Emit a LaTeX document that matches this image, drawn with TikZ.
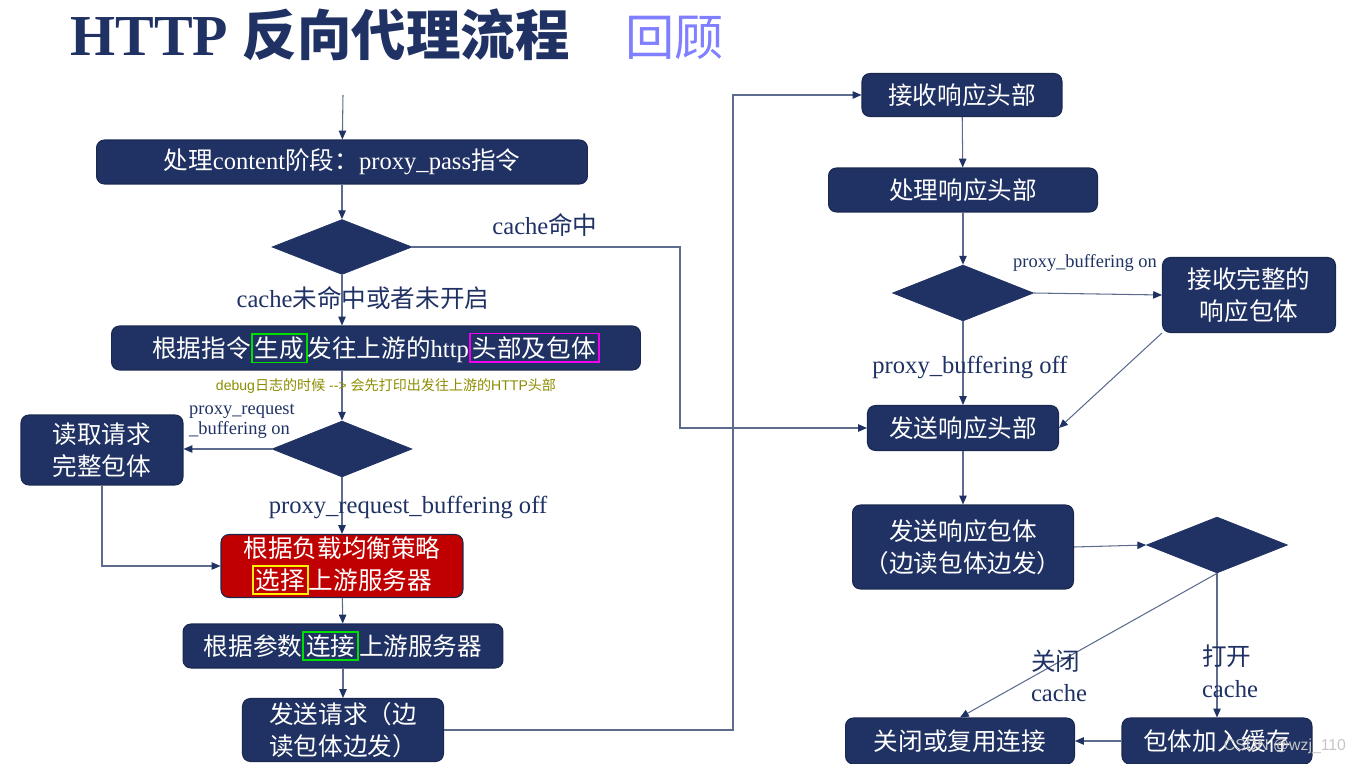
\documentclass[tikz,border=0pt]{standalone}
\usepackage{fontspec}
\setmainfont{Liberation Serif}
\newfontfamily\zhfont{Noto Sans CJK SC}
\newfontfamily\latsans{Liberation Sans}
\usetikzlibrary{arrows.meta, shapes.geometric, positioning}
\definecolor{flownavy}{HTML}{203264}
\definecolor{linegray}{HTML}{5C6B8E}
\definecolor{lbred}{HTML}{C00000}
\definecolor{hlgreen}{HTML}{00DD00}
\definecolor{hlpink}{HTML}{F000F0}
\definecolor{hlyellow}{HTML}{FFEE00}
\definecolor{debugolive}{HTML}{8C8C00}
\definecolor{recapblue}{HTML}{7F7FFF}
\newcommand{\zh}[1]{{\zhfont #1}}
\newcommand{\hlbox}[3]{{\setlength{\fboxsep}{1.2pt}\setlength{\fboxrule}{1pt}\fcolorbox{#1}{#2}{#3}}}

\begin{document}
\begin{tikzpicture}[x=0.02cm, y=-0.02cm, font=\fontsize{14}{18}\selectfont,
  stepbox/.style={draw=flownavy!80!black, fill=flownavy, text=white,
    rounded corners=4.5pt, align=center, inner sep=1pt, line width=0.6pt},
  decision/.style={diamond, fill=flownavy, draw=flownavy, inner sep=0pt},
  flow/.style={draw=linegray, line width=0.6pt,
    -{Triangle[length=5pt, width=4.2pt, color=flownavy]}},
  lbl/.style={text=flownavy, inner sep=1pt}]

% --- canvas (pixel grid of the reference) ---
\useasboundingbox (0,0) rectangle (1347,764);

% --- title ---
\node[anchor=west, text=flownavy, inner sep=0pt,
  font=\fontsize{33}{36}\selectfont\bfseries] (title) at (70,35)
  {HTTP {\fontsize{31}{36}\selectfont\zh{反向代理流程}}};
\node[anchor=west, text=recapblue, inner sep=0pt,
  font=\fontsize{28}{30}\selectfont] (recap) at (625,38) {\zh{回顾}};

% --- left column: request side ---
\coordinate (start) at (343,95);
\node[stepbox, minimum width=9.82cm, minimum height=0.88cm] (content) at (342,162)
  {\zh{处理}content\zh{阶段：}proxy\_pass\zh{指令}};
\node[decision, minimum width=2.8cm, minimum height=1.1cm] (cachedec) at (342,247) {};
\node[stepbox, minimum width=10.58cm, minimum height=0.88cm] (genreq) at (376,348)
  {\zh{根据指令}\hlbox{hlgreen}{flownavy}{\zh{生成}}\zh{发往上游的}http\hlbox{hlpink}{flownavy}{\zh{头部及包体}}};
\node[decision, minimum width=2.8cm, minimum height=1.12cm] (reqbufdec) at (342,449) {};
\node[stepbox, minimum width=3.24cm, minimum height=1.4cm] (readbody) at (102,450)
  {\zh{读取请求}\\\zh{完整包体}};
\node[stepbox, fill=lbred, minimum width=4.84cm, minimum height=1.26cm] (pickup) at (342,566)
  {\zh{根据负载均衡策略}\\\hlbox{hlyellow}{lbred}{\zh{选择}}\zh{上游服务器}};
\node[stepbox, minimum width=6.4cm, minimum height=0.88cm] (connup) at (343,646)
  {\zh{根据参数}\hlbox{hlgreen}{flownavy}{\zh{连接}}\zh{上游服务器}};
\node[stepbox, minimum width=4.02cm, minimum height=1.26cm] (sendreq) at (343,730)
  {\zh{发送请求（边}\\\zh{读包体边发）}};

% --- right column: response side ---
\node[stepbox, minimum width=4.0cm, minimum height=0.86cm] (recvhead) at (962,95)
  {\zh{接收响应头部}};
\node[stepbox, minimum width=5.38cm, minimum height=0.88cm] (prochead) at (963,190)
  {\zh{处理响应头部}};
\node[decision, minimum width=2.82cm, minimum height=1.12cm] (bufdec) at (963,293) {};
\node[stepbox, minimum width=3.46cm, minimum height=1.5cm] (recvbody) at (1249,295)
  {\zh{接收完整的}\\\zh{响应包体}};
\node[stepbox, minimum width=3.82cm, minimum height=0.9cm] (sendhead) at (963,428)
  {\zh{发送响应头部}};
\node[stepbox, minimum width=4.42cm, minimum height=1.68cm] (sendbody) at (963,547)
  {\zh{发送响应包体}\\\zh{（边读包体边发）}};
\node[decision, minimum width=2.82cm, minimum height=1.12cm] (cachesw) at (1217,545) {};
\node[stepbox, minimum width=4.58cm, minimum height=0.92cm] (closeconn) at (960,741)
  {\zh{关闭或复用连接}};
\node[stepbox, minimum width=3.8cm, minimum height=0.92cm] (storebody) at (1217,741)
  {\zh{包体加入缓存}};

% --- turning points ---
\coordinate (hitturn) at (680,247);
\coordinate (sendturn) at (733,730);

% --- connectors ---
\draw[flow] (start) -- (content);
\draw[flow] (content) -- (cachedec);
\draw[flow] (cachedec.east) -- (hitturn) |- (sendhead.west);
\draw[flow] (cachedec.south) -- (cachedec.south |- genreq.north);
\draw[flow] (genreq.south -| cachedec) -- (reqbufdec);
\draw[flow] (reqbufdec.west) -- (readbody.east |- reqbufdec.west);
\draw[flow] (readbody.south) |- (pickup.west);
\draw[flow] (reqbufdec) -- (pickup);
\draw[flow] (pickup) -- (connup);
\draw[flow] (connup) -- (sendreq);
\draw[flow] (sendreq.east) -- (sendturn) |- (recvhead.west);
\draw[flow] (recvhead) -- (prochead);
\draw[flow] (prochead) -- (bufdec);
\draw[flow] (bufdec.east) -- (recvbody.west);
\draw[flow] (bufdec) -- (sendhead);
\draw[flow] (recvbody.south west) -- (sendhead.east);
\draw[flow] (sendhead) -- (sendbody);
\draw[flow] (sendbody.east) -- (cachesw.west);
\draw[flow] (cachesw.south) -- (storebody.north);
\draw[flow] (cachesw.south) -- (closeconn.north);
\draw[flow] (storebody.west) -- (closeconn.east);

% --- connector labels ---
\node[lbl] (hitlbl) at (545,225) {cache\zh{命中}};
\node[lbl] (misslbl) at (363,298) {cache\zh{未命中或者未开启}};
\node[text=debugolive, inner sep=0pt, font=\latsans\fontsize{8}{10}\selectfont] (debuglbl) at (386,386)
  {debug\zh{日志的时候} --> \zh{会先打印出发往上游的}HTTP\zh{头部}};
\node[lbl, align=left, font=\fontsize{10.5}{11.5}\selectfont] (reqonlbl) at (242,421)
  {proxy\_request\\\_buffering on};
\node[lbl] (reqofflbl) at (408,507) {proxy\_request\_buffering off};
\node[lbl, font=\fontsize{10.5}{12}\selectfont] (bufonlbl) at (1085,263) {proxy\_buffering on};
\node[lbl] (bufofflbl) at (970,367) {proxy\_buffering off};
\node[lbl, align=left] (closelbl) at (1059,676) {\zh{关闭}\\cache};
\node[lbl, align=left] (openlbl) at (1230,671) {\zh{打开}\\cache};

% --- watermark ---
\node[text=gray!45, inner sep=0pt, font=\latsans\fontsize{9}{10}\selectfont] (mark) at (1285,746) {CSDN @wzj\_110};

\end{tikzpicture}
\end{document}
